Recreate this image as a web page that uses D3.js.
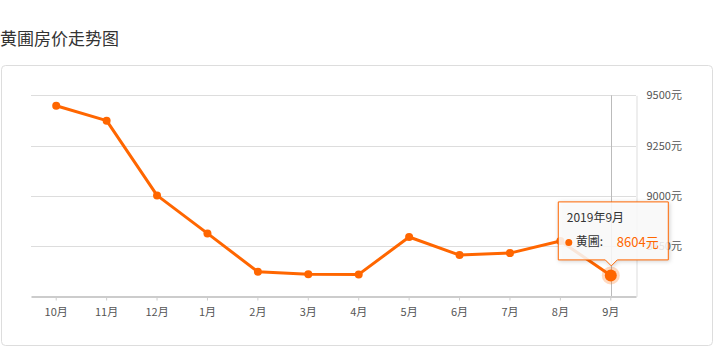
<!DOCTYPE html>
<html>
<head>
	<meta charset="utf-8">
	<title>黄圃房价走势图</title>
	<script src="https://cdn.jsdelivr.net/npm/d3@7/dist/d3.min.js"></script>
	<style type="text/css">
		body{
			margin: 0;
			padding: 0;
			background: #fff;
			font-family: "Noto Sans CJK SC", "Noto Sans", sans-serif;
		}
		svg{
			display: block;
		}
	</style>
</head>
<body>
	<svg id="svg" width="714" height="356"></svg>
	<script type="text/javascript">
		// 数据
		let months = ['10月','11月','12月','1月','2月','3月','4月','5月','6月','7月','8月','9月'];
		let prices = [9448, 9374, 9002, 8813, 8622, 8610, 8609, 8795, 8705, 8715, 8775, 8604];
		let yTicks = [8750, 9000, 9250, 9500];
		let seriesName = '黄圃';
		let tipTitle = '2019年9月';
		let activeIndex = 11;

		let svg = d3.select('#svg');
		let orange = '#ff6600';

		// 标题
		svg.append('text')
			.attr('x', 0)
			.attr('y', 45)
			.style('font-size', '17px')
			.style('fill', '#333')
			.text('黄圃房价走势图');

		// 外框
		svg.append('rect')
			.attr('x', 1.5)
			.attr('y', 65.5)
			.attr('width', 711)
			.attr('height', 280)
			.attr('rx', 4)
			.style('fill', 'none')
			.style('stroke', '#ddd');

		let plot = {left: 31, right: 636, top: 95.3, bottom: 296.3};

		let x = d3.scaleBand().domain(months).range([plot.left, plot.right]);
		let cx = d => x(d) + x.bandwidth()/2;
		let y = d3.scaleLinear().domain([8500, 9500]).range([plot.bottom, plot.top]);

		// 网格线
		let grid = svg.append('g');
		grid.selectAll('line').data(yTicks).enter().append('line')
			.attr('x1', plot.left).attr('x2', plot.right)
			.attr('y1', d => Math.round(y(d)) + 0.5).attr('y2', d => Math.round(y(d)) + 0.5)
			.style('stroke', '#ddd');

		// 右侧 y 轴
		let yAxis = svg.append('g')
			.attr('transform', 'translate(' + (plot.right + 0.5) + ',0)')
			.call(d3.axisRight(y).tickValues(yTicks.concat([8500])).tickSize(0).tickPadding(10).tickFormat(d => d === 8500 ? '' : d + '元'));
		yAxis.select('.domain').style('stroke', '#ddd');
		yAxis.selectAll('text')
			.style('font-size', '11px')
			.style('fill', '#555')
			.style('font-family', '"Noto Sans CJK SC", sans-serif');

		// 指示线
		svg.append('line')
			.attr('x1', Math.round(cx(months[activeIndex])) + 0.5)
			.attr('x2', Math.round(cx(months[activeIndex])) + 0.5)
			.attr('y1', plot.top).attr('y2', plot.bottom)
			.style('stroke', '#bbb');

		// x 轴
		let xAxis = svg.append('g')
			.attr('transform', 'translate(0,' + (Math.round(plot.bottom) + 0.5) + ')')
			.call(d3.axisBottom(x).tickSizeOuter(0).tickSizeInner(4).tickPadding(8));
		xAxis.select('.domain').style('stroke', '#ccc').style('stroke-width', 2);
		xAxis.selectAll('.tick line').style('stroke', '#ccc');
		xAxis.selectAll('text')
			.style('font-size', '11px')
			.style('fill', '#555')
			.style('font-family', '"Noto Sans CJK SC", sans-serif');

		// 折线
		let line = d3.line()
			.x((d, i) => cx(months[i]))
			.y(d => y(d));

		svg.append('path')
			.datum(prices)
			.attr('d', line)
			.style('fill', 'none')
			.style('stroke', orange)
			.style('stroke-width', 3)
			.style('stroke-linejoin', 'round');

		svg.append('g').selectAll('circle').data(prices).enter().append('circle')
			.attr('cx', (d, i) => cx(months[i]))
			.attr('cy', d => y(d))
			.attr('r', (d, i) => i === activeIndex ? 0 : 4)
			.style('fill', orange);

		// 高亮点
		let ax = cx(months[activeIndex]), ay = y(prices[activeIndex]);
		svg.append('circle').attr('cx', ax).attr('cy', ay).attr('r', 9)
			.style('fill', orange).style('opacity', 0.25);
		svg.append('circle').attr('cx', ax).attr('cy', ay).attr('r', 6)
			.style('fill', orange);

		// 提示框
		let tipW = 110, tipH = 58;
		let tx = ax - 53, ty = ay - 74;
		let tip = svg.append('g').attr('transform', 'translate(' + tx + ',' + ty + ')');
		let aX = ax - tx;
		let tipPath = 'M0,0 H' + tipW + ' V' + tipH + ' H' + (aX + 6) + ' L' + aX + ',' + (tipH + 6) +
			' L' + (aX - 6) + ',' + tipH + ' H0 Z';
		tip.append('path')
			.attr('d', tipPath)
			.attr('transform', 'translate(0.5,0.5)')
			.style('fill', 'rgba(255,255,255,0.85)')
			.style('stroke', orange)
			.style('stroke-width', 1)
			.style('filter', 'drop-shadow(1px 1px 2px rgba(0,0,0,0.2))');
		tip.append('text')
			.attr('x', 9).attr('y', 21)
			.style('font-size', '12px')
			.style('fill', '#333')
			.text(tipTitle);
		tip.append('circle')
			.attr('cx', 11).attr('cy', 41).attr('r', 3.5)
			.style('fill', orange);
		tip.append('text')
			.attr('x', 18).attr('y', 45)
			.style('font-size', '12px')
			.style('fill', '#333')
			.text(seriesName + ':');
		tip.append('text')
			.attr('x', 59).attr('y', 46)
			.style('font-size', '13px')
			.style('fill', orange)
			.text(prices[activeIndex] + '元');
	</script>
</body>
</html>
